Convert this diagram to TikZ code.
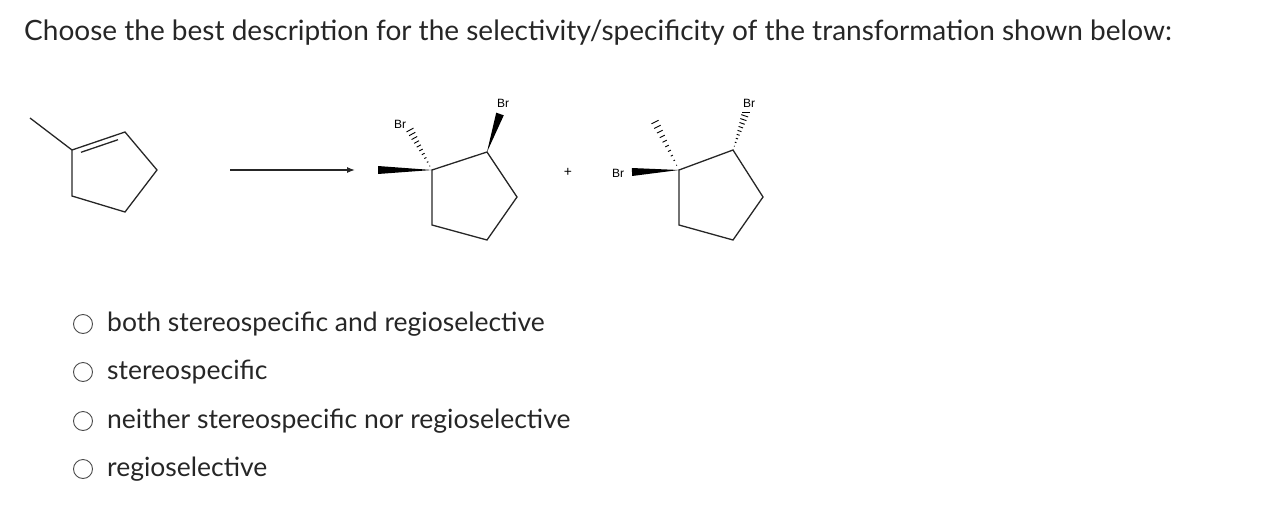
\documentclass[tikz,border=0pt]{standalone}
\usepackage{fontspec}
\setmainfont{Lato}
\newfontfamily\chemfont{Liberation Sans}
\usetikzlibrary{calc,arrows.meta}
\tikzset{bond/.style={line width=1.3pt,black!85},
 lbl/.style={font=\chemfont\fontsize{12}{13}\selectfont,inner sep=0pt},
 opt/.style={anchor=west,font=\fontsize{26.5}{30}\selectfont,inner sep=0pt,text=black!85},
 radio/.style={circle,draw=black!70,line width=0.9pt,minimum size=19pt,inner sep=0pt}}
\newcommand{\wedgebond}[2]{\fill[black] (#1) -- ($(#2)!4pt!90:(#1)$) -- ($(#2)!4pt!-90:(#1)$) -- cycle;}
\newcommand{\hashbond}[2]{\foreach \t in {0.1,0.2,...,1.0}{\draw[line width=0.9pt] ($(#1)!\t!(#2)!{\t*4pt}!90:(#2)$) -- ($(#1)!\t!(#2)!{\t*4pt}!-90:(#2)$);}}
\begin{document}
\begin{tikzpicture}[x=1pt,y=-1pt]
\useasboundingbox (0,0) rectangle (1282,514);
\node[anchor=west,inner sep=0pt,font=\fontsize{28}{32}\selectfont,text=black!85] (title) at (24,33) {Choose the best description for the selectivity/specificity of the transformation shown below:};
% reactant
\coordinate (me) at (30,118); \coordinate (a1) at (72,150); \coordinate (a2) at (125,132);
\coordinate (a3) at (157,170); \coordinate (a4) at (125,212); \coordinate (a5) at (72,196);
\draw[bond] (me)--(a1);
\draw[bond] (a1)--(a2)--(a3)--(a4)--(a5)--cycle;
\draw[bond] ($(a1)!0.15!(a2)+(1,5)$) -- ($(a1)!0.85!(a2)+(1,5)$);
% arrow
\coordinate (r0) at (230,170); \coordinate (r1) at (355,170);
\draw[bond,-{Latex[length=8pt,width=6pt]}] (r0)--(r1);
% product 1
\coordinate (b1) at (432,170); \coordinate (b2) at (487,152); \coordinate (b3) at (517,197);
\coordinate (b4) at (487,240); \coordinate (b5) at (432,225);
\draw[bond] (b1)--(b2)--(b3)--(b4)--(b5)--cycle;
\coordinate (bm) at (378,170); \coordinate (bh) at (410,130); \coordinate (bw) at (500,114);
\wedgebond{b1}{bm}
\hashbond{b1}{bh}
\wedgebond{b2}{bw}
\node[lbl] (br1) at (400,124) {Br};
\node[lbl] (br2) at (503,103) {Br};
\node[font=\fontsize{14}{15}\selectfont] (plus) at (568,172) {+};
% product 2
\coordinate (c1) at (679,170); \coordinate (c2) at (733,150); \coordinate (c3) at (763,197);
\coordinate (c4) at (733,240); \coordinate (c5) at (679,225);
\draw[bond] (c1)--(c2)--(c3)--(c4)--(c5)--cycle;
\coordinate (cw) at (632,172); \coordinate (ch) at (655,122); \coordinate (cb) at (746,112);
\wedgebond{c1}{cw}
\hashbond{c1}{ch}
\hashbond{c2}{cb}
\node[lbl] (br3) at (618,173) {Br};
\node[lbl] (br4) at (749,103) {Br};
% options
\foreach \y/\t [count=\i] in {324/both stereospecific and regioselective,372/stereospecific,421/neither stereospecific nor regioselective,469/regioselective}{
 \node[radio] (r\i) at (83,\y) {};
 \node[opt] (o\i) at (107,\y) {\t};
}
\end{tikzpicture}
\end{document}
